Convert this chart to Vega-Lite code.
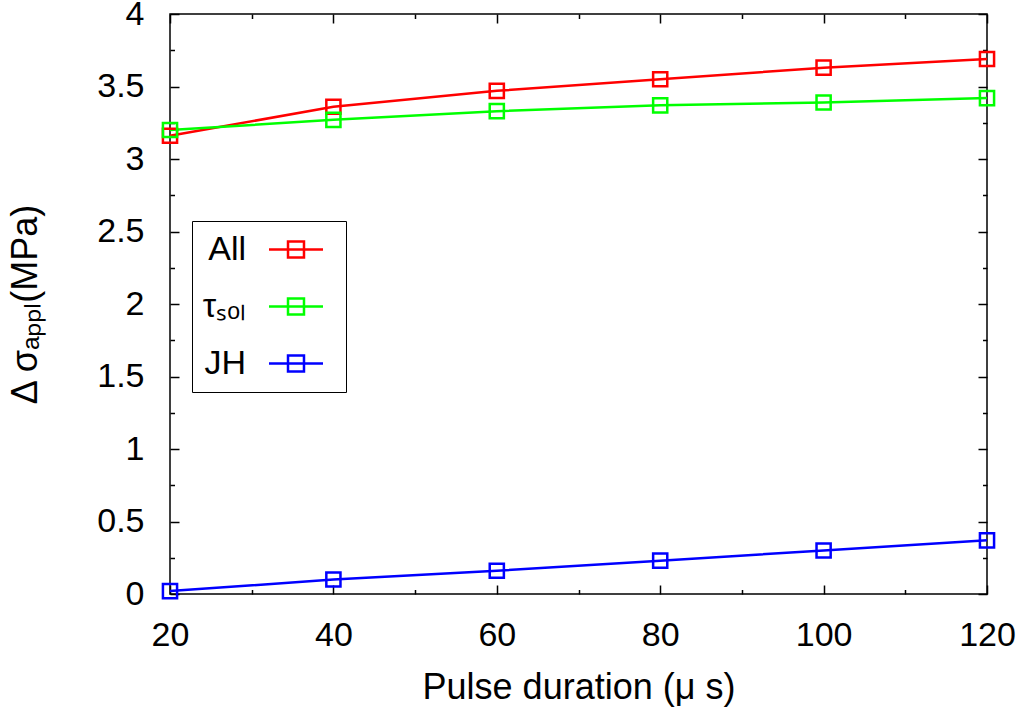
{
  "$schema": "https://vega.github.io/schema/vega-lite/v6.json",
  "width": 817,
  "height": 580,
  "autosize": {"type": "none"},
  "padding": {"left": 170, "top": 14, "right": 33, "bottom": 115},
  "background": "white",
  "config": {
    "view": {"stroke": "black", "strokeWidth": 1.5},
    "font": "Liberation Sans",
    "axis": {"grid": false, "labelColor": "black", "titleColor": "black", "tickColor": "black", "tickWidth": 1.5}
  },
  "data": {
    "values": [
      {"t": 20, "v": 3.16, "s": "All"},
      {"t": 40, "v": 3.36, "s": "All"},
      {"t": 60, "v": 3.47, "s": "All"},
      {"t": 80, "v": 3.55, "s": "All"},
      {"t": 100, "v": 3.63, "s": "All"},
      {"t": 120, "v": 3.69, "s": "All"},
      {"t": 20, "v": 3.2, "s": "τₛₒₗ"},
      {"t": 40, "v": 3.27, "s": "τₛₒₗ"},
      {"t": 60, "v": 3.33, "s": "τₛₒₗ"},
      {"t": 80, "v": 3.37, "s": "τₛₒₗ"},
      {"t": 100, "v": 3.39, "s": "τₛₒₗ"},
      {"t": 120, "v": 3.42, "s": "τₛₒₗ"},
      {"t": 20, "v": 0.02, "s": "JH"},
      {"t": 40, "v": 0.1, "s": "JH"},
      {"t": 60, "v": 0.16, "s": "JH"},
      {"t": 80, "v": 0.23, "s": "JH"},
      {"t": 100, "v": 0.3, "s": "JH"},
      {"t": 120, "v": 0.37, "s": "JH"}
    ]
  },
  "layer": [
    {
      "mark": {"type": "line", "strokeWidth": 2.5, "point": {"shape": "square", "filled": false, "size": 200, "strokeWidth": 2.5}},
      "encoding": {
        "x": {
          "field": "t", "type": "quantitative",
          "scale": {"domain": [20, 120], "nice": false, "zero": false},
          "axis": {"orient": "bottom", "values": [20, 40, 60, 80, 100, 120], "format": "d", "ticks": false, "domain": false, "labelFontSize": 34, "labelPadding": 24, "labelFlush": false, "title": "Pulse duration (μ s)", "titleFontSize": 36, "titleFontWeight": "normal", "titleY": 104, "titleBaseline": "alphabetic"}
        },
        "y": {
          "field": "v", "type": "quantitative",
          "scale": {"domain": [0, 4], "nice": false, "zero": false},
          "axis": {"orient": "left", "values": [0, 0.5, 1, 1.5, 2, 2.5, 3, 3.5, 4], "format": "~g", "ticks": false, "domain": false, "labelFontSize": 34, "labelPadding": 26, "labelFlush": false, "title": "Δ σₐₚₚₗ(MPa)", "titleFontSize": 36, "titleFontWeight": "normal", "titleX": -145, "titleY": 290, "titleAngle": 270, "titleBaseline": "middle", "titleAlign": "center"}
        },
        "color": {
          "field": "s", "type": "nominal",
          "scale": {"domain": ["All", "τₛₒₗ", "JH"], "range": ["#ff0000", "#00ff00", "#0000ff"]},
          "legend": {
            "title": null, "orient": "none", "legendX": 22, "legendY": 207, "padding": 0,
            "strokeColor": "black", "fillColor": "white",
            "labelFontSize": 34, "labelFont": "Liberation Sans", "labelColor": "black", "labelAlign": "right", "labelOffset": -78.5, "labelLimit": 300,
            "symbolOffset": 75.5, "symbolSize": 2916, "symbolStrokeWidth": 2.5, "symbolFillColor": "transparent",
            "symbolType": "M-3.85,0M1.63,0M0,-0.87M0,0.87M-1,0H1M-0.296,-0.296H0.296V0.296H-0.296Z",
            "rowPadding": 0
          }
        }
      }
    },
    {
      "mark": {"type": "point", "opacity": 0},
      "encoding": {
        "x": {"field": "t", "type": "quantitative", "axis": {"orient": "bottom", "values": [20, 40, 60, 80, 100, 120], "tickSize": -9, "labels": false, "domain": false, "title": null}},
        "y": {"field": "v", "type": "quantitative", "axis": {"orient": "left", "values": [0, 0.5, 1, 1.5, 2, 2.5, 3, 3.5, 4], "tickSize": -9, "labels": false, "domain": false, "title": null}}
      }
    },
    {
      "mark": {"type": "point", "opacity": 0},
      "encoding": {
        "x": {"field": "t", "type": "quantitative", "axis": {"orient": "top", "values": [20, 40, 60, 80, 100, 120], "tickSize": -9, "labels": false, "domain": false, "title": null}},
        "y": {"field": "v", "type": "quantitative", "axis": {"orient": "right", "values": [0, 0.5, 1, 1.5, 2, 2.5, 3, 3.5, 4], "tickSize": -9, "labels": false, "domain": false, "title": null}}
      }
    },
    {
      "mark": {"type": "point", "opacity": 0},
      "encoding": {
        "x": {"field": "t", "type": "quantitative", "axis": {"orient": "bottom", "values": [30, 50, 70, 90, 110], "tickSize": -4.5, "labels": false, "domain": false, "title": null}},
        "y": {"field": "v", "type": "quantitative", "axis": {"orient": "left", "values": [0.25, 0.75, 1.25, 1.75, 2.25, 2.75, 3.25, 3.75], "tickSize": -4.5, "labels": false, "domain": false, "title": null}}
      }
    },
    {
      "mark": {"type": "point", "opacity": 0},
      "encoding": {
        "x": {"field": "t", "type": "quantitative", "axis": {"orient": "top", "values": [30, 50, 70, 90, 110], "tickSize": -4.5, "labels": false, "domain": false, "title": null}},
        "y": {"field": "v", "type": "quantitative", "axis": {"orient": "right", "values": [0.25, 0.75, 1.25, 1.75, 2.25, 2.75, 3.25, 3.75], "tickSize": -4.5, "labels": false, "domain": false, "title": null}}
      }
    }
  ],
  "resolve": {"axis": {"x": "independent", "y": "independent"}}
}
